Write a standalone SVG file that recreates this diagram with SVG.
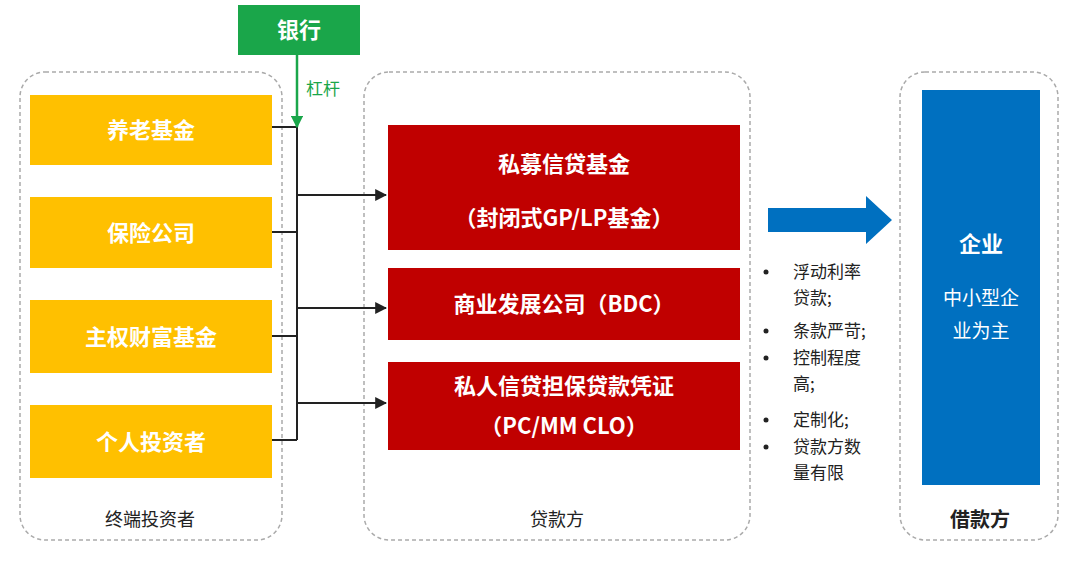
<svg xmlns="http://www.w3.org/2000/svg" width="1080" height="563" viewBox="0 0 1080 563">
<defs>
<style>
.pan{fill:none;stroke:#aaa;stroke-width:1.5;stroke-dasharray:4 3}
.or{fill:#ffc000}
.rd{fill:#c00000}
.t{font-family:"Noto Sans CJK SC","Liberation Sans",sans-serif;text-anchor:middle}
.w{fill:#fff;font-size:22px;font-weight:bold}
.k{fill:#222;font-size:18px}
.ln{stroke:#222;stroke-width:2;fill:none}
</style>
<marker id="a" viewBox="0 0 10 10" refX="9" refY="5" markerWidth="6" markerHeight="6" orient="auto"><path d="M0,0L10,5L0,10z" fill="#222"/></marker>
<marker id="g" viewBox="0 0 10 10" refX="9" refY="5" markerWidth="5" markerHeight="5" orient="auto"><path d="M0,0L10,5L0,10z" fill="#1aa64a"/></marker>
</defs>
<rect width="1080" height="563" fill="#fff"/>
<g id="panels">
<rect class="pan" x="20" y="72" width="262" height="468" rx="25"/>
<rect class="pan" x="364" y="72" width="386" height="468" rx="25"/>
<rect class="pan" x="900" y="72" width="158" height="468" rx="25"/>
<text class="t k" x="150" y="526">终端投资者</text>
<text class="t k" x="557" y="526">贷款方</text>
<text class="t k" x="980" y="527" style="font-weight:bold;font-size:20px">借款方</text>
</g>
<g id="bank"><rect x="238" y="5" width="122" height="50" fill="#1aa64a"/><text class="t w" x="299" y="38">银行</text></g>
<g id="investors">
<rect class="or" x="30" y="95" width="242" height="70"/><text class="t w" x="151" y="138">养老基金</text>
<rect class="or" x="30" y="197" width="242" height="71"/><text class="t w" x="151" y="241">保险公司</text>
<rect class="or" x="30" y="300" width="242" height="73"/><text class="t w" x="151" y="345">主权财富基金</text>
<rect class="or" x="30" y="405" width="242" height="73"/><text class="t w" x="151" y="450">个人投资者</text>
</g>
<g id="lenders">
<rect class="rd" x="388" y="125" width="352" height="125"/><text class="t w" x="564" y="172">私募信贷基金</text><text class="t w" x="564" y="226">（封闭式GP/LP基金）</text>
<rect class="rd" x="388" y="268" width="352" height="72"/><text class="t w" x="564" y="312">商业发展公司（BDC）</text>
<rect class="rd" x="388" y="362" width="352" height="88"/><text class="t w" x="564" y="394">私人信贷担保贷款凭证</text><text class="t w" x="564" y="434">（PC/MM CLO）</text>
</g>
<g id="borrower">
<rect x="922" y="90" width="118" height="395" fill="#0070c0"/>
<text class="t w" x="981" y="252">企业</text>
<text class="t" x="981" y="305" fill="#fff" font-size="19">中小型企</text>
<text class="t" x="981" y="338" fill="#fff" font-size="19">业为主</text>
</g>
<g id="features" font-family="Noto Sans CJK SC,sans-serif" font-size="17" fill="#222">
<circle cx="766" cy="272" r="2.5"/><text x="793" y="278">浮动利率</text><text x="793" y="304">贷款;</text>
<circle cx="766" cy="331" r="2.5"/><text x="793" y="337">条款严苛;</text>
<circle cx="766" cy="358" r="2.5"/><text x="793" y="364">控制程度</text><text x="793" y="390">高;</text>
<circle cx="766" cy="420" r="2.5"/><text x="793" y="426">定制化;</text>
<circle cx="766" cy="447" r="2.5"/><text x="793" y="453">贷款方数</text><text x="793" y="479">量有限</text>
</g>
<g id="connectors">
<path class="ln" d="M272,127H297M272,232H297M272,336H297M272,440H297M297,127V440"/>
<path class="ln" d="M297,195H386" marker-end="url(#a)"/>
<path class="ln" d="M297,308H386" marker-end="url(#a)"/>
<path class="ln" d="M297,403H386" marker-end="url(#a)"/>
<path d="M297,55V127" stroke="#1aa64a" stroke-width="2.5" marker-end="url(#g)"/>
<text x="306" y="95" font-family="Noto Sans CJK SC,sans-serif" font-size="17" fill="#1aa64a">杠杆</text>
<path d="M768,208H866V196L892,220L866,244V232H768z" fill="#0070c0"/>
</g>
</svg>
